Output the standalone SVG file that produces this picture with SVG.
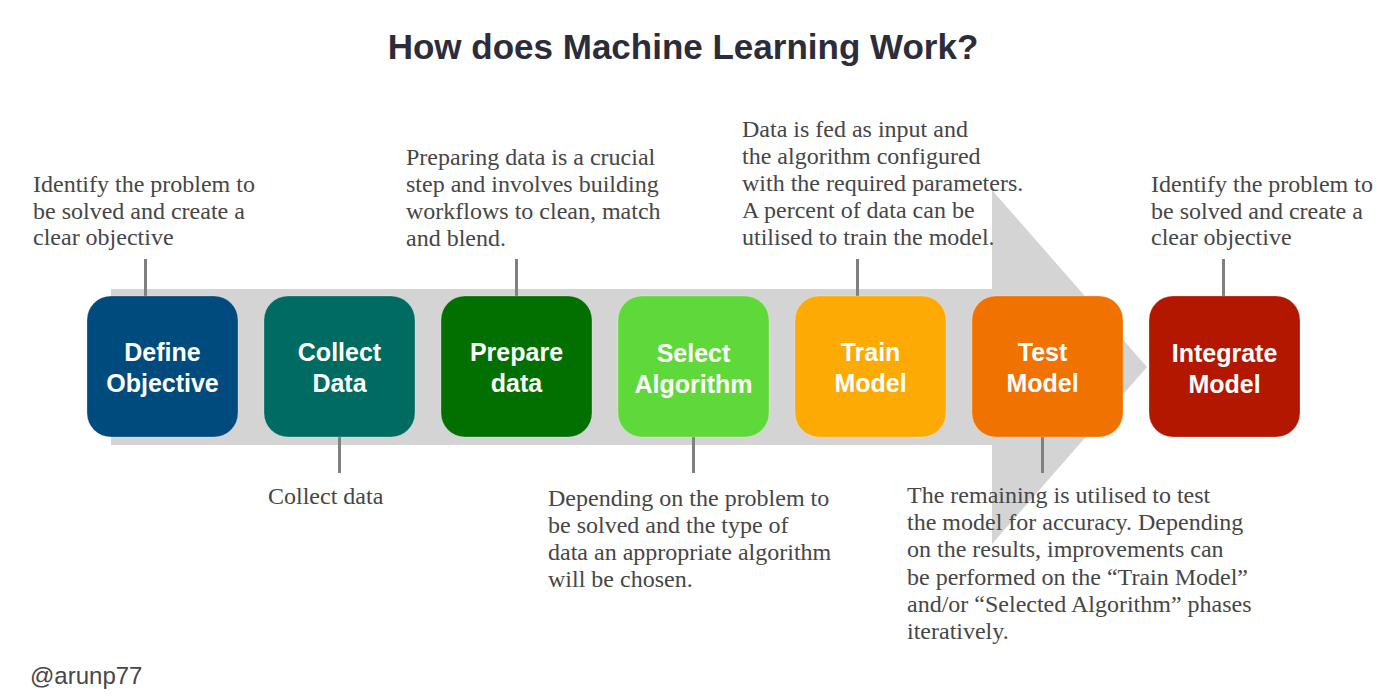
<svg xmlns="http://www.w3.org/2000/svg" width="1400" height="700" viewBox="0 0 1400 700">
<style>
.box{stroke:#ffffff;stroke-opacity:0.25;stroke-width:1}
.lbl{font-family:"Liberation Sans",Arial,Helvetica,sans-serif;font-weight:bold;font-size:25px;fill:#ffffff;text-anchor:middle}
.desc{font-family:"Liberation Serif","Times New Roman",serif;font-size:24px;fill:#464646}
.conn{stroke:#808080;stroke-width:3;fill:none}
</style>
<rect width="1400" height="700" fill="#ffffff"/>
<text x="683" y="59" text-anchor="middle" style="font-family:'Liberation Sans',Arial,Helvetica,sans-serif;font-weight:bold;font-size:35px;fill:#2c2c3a">How does Machine Learning Work?</text>
<polygon id="flow-arrow" points="111,289 992,289 992,190 1147,367 992,544 992,445 111,445" fill="#d4d4d4"/>
<g id="connectors">
<line class="conn" x1="145.5" y1="259" x2="145.5" y2="296"/>
<line class="conn" x1="339.5" y1="437" x2="339.5" y2="473"/>
<line class="conn" x1="516.5" y1="259" x2="516.5" y2="296"/>
<line class="conn" x1="693.5" y1="437" x2="693.5" y2="473"/>
<line class="conn" x1="857.5" y1="259" x2="857.5" y2="296"/>
<line class="conn" x1="1042.5" y1="437" x2="1042.5" y2="473"/>
<line class="conn" x1="1223.5" y1="259" x2="1223.5" y2="296"/>
</g>
<g id="define-objective">
<rect class="box" x="87" y="296" width="151" height="141" rx="24" fill="#004b7d"/>
<text class="lbl" x="162.5" y="361">Define</text>
<text class="lbl" x="162.5" y="392">Objective</text>
</g>
<g id="collect-data">
<rect class="box" x="264" y="296" width="151" height="141" rx="24" fill="#006b60"/>
<text class="lbl" x="339.5" y="361">Collect</text>
<text class="lbl" x="339.5" y="392">Data</text>
</g>
<g id="prepare-data">
<rect class="box" x="441" y="296" width="151" height="141" rx="24" fill="#017001"/>
<text class="lbl" x="516.5" y="361">Prepare</text>
<text class="lbl" x="516.5" y="392">data</text>
</g>
<g id="select-algorithm">
<rect class="box" x="618" y="296" width="151" height="141" rx="24" fill="#5fd93a"/>
<text class="lbl" x="693.5" y="362">Select</text>
<text class="lbl" x="693.5" y="393">Algorithm</text>
</g>
<g id="train-model">
<rect class="box" x="795" y="296" width="151" height="141" rx="24" fill="#fdaa05"/>
<text class="lbl" x="870.5" y="361">Train</text>
<text class="lbl" x="870.5" y="392">Model</text>
</g>
<g id="test-model">
<rect class="box" x="972" y="296" width="151" height="141" rx="24" fill="#f07200"/>
<text class="lbl" x="1042.5" y="361">Test</text>
<text class="lbl" x="1042.5" y="392">Model</text>
</g>
<g id="integrate-model">
<rect class="box" x="1149" y="296" width="151" height="141" rx="24" fill="#b41700"/>
<text class="lbl" x="1224.5" y="362">Integrate</text>
<text class="lbl" x="1224.5" y="393">Model</text>
</g>
<g id="descriptions">
<text class="desc" x="33" y="192">Identify the problem to</text>
<text class="desc" x="33" y="219">be solved and create a</text>
<text class="desc" x="33" y="245">clear objective</text>
<text class="desc" x="406" y="165">Preparing data is a crucial</text>
<text class="desc" x="406" y="192">step and involves building</text>
<text class="desc" x="406" y="219">workflows to clean, match</text>
<text class="desc" x="406" y="246">and blend.</text>
<text class="desc" x="742" y="137">Data is fed as input and</text>
<text class="desc" x="742" y="164">the algorithm configured</text>
<text class="desc" x="742" y="191">with the required parameters.</text>
<text class="desc" x="742" y="218">A percent of data can be</text>
<text class="desc" x="742" y="245">utilised to train the model.</text>
<text class="desc" x="1151" y="192">Identify the problem to</text>
<text class="desc" x="1151" y="219">be solved and create a</text>
<text class="desc" x="1151" y="245">clear objective</text>
<text class="desc" x="268" y="504">Collect data</text>
<text class="desc" x="548" y="506">Depending on the problem to</text>
<text class="desc" x="548" y="533">be solved and the type of</text>
<text class="desc" x="548" y="560">data an appropriate algorithm</text>
<text class="desc" x="548" y="587">will be chosen.</text>
<text class="desc" x="907" y="503">The remaining is utilised to test</text>
<text class="desc" x="907" y="530">the model for accuracy. Depending</text>
<text class="desc" x="907" y="557">on the results, improvements can</text>
<text class="desc" x="907" y="585">be performed on the “Train Model”</text>
<text class="desc" x="907" y="612">and/or “Selected Algorithm” phases</text>
<text class="desc" x="907" y="639">iteratively.</text>
</g>
<text x="30" y="684" style="font-family:'Liberation Sans',Arial,Helvetica,sans-serif;font-size:24px;fill:#464646">@arunp77</text>
</svg>
